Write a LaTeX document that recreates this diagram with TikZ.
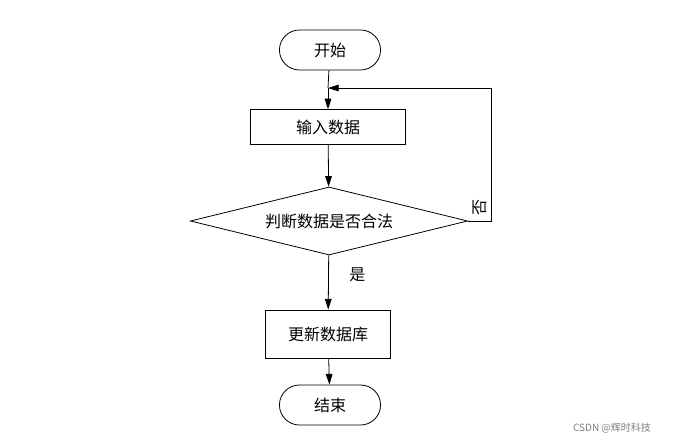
\documentclass[tikz,border=0pt]{standalone}
\usepackage{fontspec}
\setmainfont{Noto Sans CJK SC}
\usetikzlibrary{shapes.geometric,shapes.misc,arrows.meta}
\begin{document}
\begin{tikzpicture}[x=0.75pt,y=-0.75pt,
  lbl/.style={font=\fontsize{12}{14}\selectfont},
  term/.style={draw,rounded rectangle,minimum width=82.5pt,minimum height=30pt,lbl},
  box/.style={draw,rectangle,lbl},
  arr/.style={-{Triangle[length=8pt,width=5pt]}},
  every path/.style={line width=0.6pt}]
\useasboundingbox (0,0) rectangle (677,442);
\node[term] (s) at (330,50) {开始};
\node[box,minimum width=116pt,minimum height=26pt] (in) at (328,127) {输入数据};
\node[draw,diamond,aspect=4.1,inner sep=0pt,minimum width=208pt,minimum height=51pt,lbl] (d) at (329,221) {判断数据是否合法};
\node[box,minimum width=94pt,minimum height=36pt] (up) at (328,334) {更新数据库};
\node[term] (e) at (330,405) {结束};
\coordinate (j) at (328,88);
\draw (s) -- (j);
\draw[arr] (j) -- (in);
\draw[arr] (d.east) -- (491,221) -- (491,88) -- (j);
\draw[arr] (in) -- (d);
\draw[arr] (d) -- node[lbl,right=12pt,pos=0.35] {是} (up);
\draw[arr] (up) -- (e);
\node[lbl,rotate=90] (no) at (480,207) {否};
\node[font=\fontsize{7.5}{9}\selectfont,text=gray] (wm) at (612,428) {CSDN @辉时科技};
\end{tikzpicture}
\end{document}
